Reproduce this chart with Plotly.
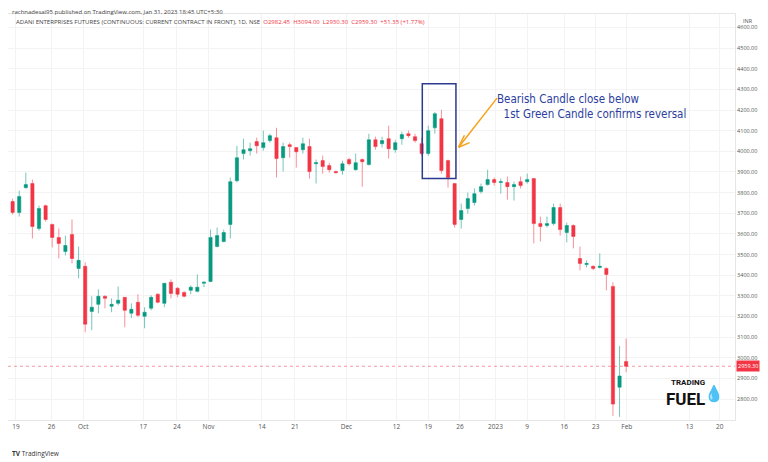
import plotly.graph_objects as go

# daily candles (index 0 = Sep 16 2022)
opens = [3757, 3704, 3824, 3844, 3626, 3737, 3646, 3583, 3515, 3597,
         3433, 3443, 3225, 3259, 3298, 3250, 3264, 3293, 3216, 3269,
         3201, 3240, 3308, 3264, 3366, 3337, 3317, 3327, 3322, 3361,
         3370, 3539, 3563, 3646, 3858, 3989, 4003, 4047, 4018, 4052,
         4066, 3969, 4032, 4018, 4008, 4023, 3940, 3955, 3931, 3902,
         3907, 3960, 3911, 3960, 3936, 4056, 4037, 4061, 4008, 4061,
         4085, 4071, 4037, 3989, 4114, 4158, 3955, 3844, 3670, 3723,
         3752, 3805, 3839, 3863, 3849, 3849, 3829, 3853, 3853, 3868,
         3650, 3641, 3650, 3728, 3607, 3641, 3481, 3452, 3443, 3438,
         3433, 3346, 2858, 2982.45]
highs = [3771, 3810, 3897, 3863, 3737, 3742, 3650, 3626, 3592, 3670,
         3539, 3462, 3298, 3332, 3303, 3288, 3346, 3293, 3264, 3308,
         3245, 3303, 3312, 3361, 3380, 3342, 3322, 3351, 3404, 3370,
         3621, 3631, 3621, 3873, 4027, 4061, 4042, 4066, 4100, 4085,
         4114, 4042, 4042, 4018, 4066, 4061, 3960, 3979, 3945, 3907,
         3955, 3969, 3989, 3965, 4085, 4071, 4071, 4124, 4056, 4095,
         4100, 4085, 4066, 4124, 4191, 4201, 3960, 3844, 3747, 3800,
         3820, 3844, 3911, 3873, 3868, 3878, 3853, 3878, 3892, 3868,
         3684, 3684, 3747, 3747, 3655, 3646, 3539, 3472, 3448, 3506,
         3438, 3366, 3057, 3094.00]
lows = [3694, 3684, 3820, 3578, 3616, 3660, 3535, 3481, 3496, 3457,
        3385, 3124, 3134, 3216, 3240, 3221, 3254, 3148, 3192, 3197,
        3143, 3230, 3264, 3245, 3288, 3293, 3293, 3308, 3317, 3342,
        3366, 3535, 3559, 3578, 3849, 3960, 3979, 3989, 4003, 4042,
        3873, 3902, 3969, 3921, 3989, 3868, 3844, 3892, 3897, 3892,
        3887, 3931, 3907, 3829, 3931, 4008, 4018, 3965, 3993, 4032,
        4066, 4042, 3979, 3979, 4085, 3892, 3824, 3631, 3626, 3699,
        3737, 3795, 3834, 3834, 3795, 3766, 3762, 3820, 3844, 3554,
        3563, 3631, 3641, 3592, 3559, 3530, 3424, 3438, 3424, 3433,
        3327, 2718, 2714, 2930.30]
closes = [3704, 3781, 3839, 3636, 3723, 3670, 3583, 3554, 3544, 3481,
          3472, 3163, 3245, 3298, 3288, 3259, 3279, 3230, 3235, 3206,
          3221, 3293, 3269, 3361, 3312, 3308, 3298, 3342, 3342, 3366,
          3583, 3592, 3607, 3853, 3969, 4008, 4013, 4027, 4042, 4076,
          3965, 4023, 4023, 3998, 4037, 3902, 3945, 3926, 3911, 3897,
          3940, 3940, 3945, 3950, 4056, 4023, 4052, 4013, 4042, 4081,
          4076, 4052, 3989, 4100, 4182, 3907, 3873, 3646, 3713, 3771,
          3795, 3829, 3863, 3849, 3853, 3829, 3839, 3834, 3863, 3650,
          3636, 3650, 3728, 3621, 3641, 3588, 3457, 3457, 3433, 3443,
          3404, 2776, 2912, 2959.30]
days = list(range(len(closes)))

tick_pos = [0.5, 5.9, 10.7, 19.8, 24.9, 29.7, 37.8, 42.8, 50.6, 58.2,
            63, 67.8, 73.2, 78, 83.6, 88.4, 93.1, 102.6, 107.2]
tick_text = ["19", "26", "Oct", "17", "24", "Nov", "14", "21", "Dec", "12",
             "19", "26", "2023", "9", "16", "23", "Feb", "13", "20"]
price_ticks = list(range(2800, 4700, 100))

green = "#089981"
red = "#f23645"
last = closes[-1]

fig = go.Figure(go.Candlestick(
    x=days, open=opens, high=highs, low=lows, close=closes,
    increasing=dict(line=dict(color="rgba(8,153,129,0.55)", width=1), fillcolor=green),
    decreasing=dict(line=dict(color="rgba(242,54,69,0.55)", width=1), fillcolor=red),
    showlegend=False, hoverinfo="skip"))

# last price line
fig.add_hline(y=last, line=dict(color=red, width=1, dash="dot"), opacity=0.5)

# highlight box + arrow
fig.add_shape(type="rect", x0=62.1, x1=67.2, y0=3868, y1=4327,
              line=dict(color="#2b3a8f", width=1.5))
for ax, ay in [(73.6, 4265), (69.5, 4045), (68.6, 4085)]:
    fig.add_annotation(x=67.6, y=4020, ax=ax, ay=ay, axref="x", ayref="y",
                       showarrow=True, arrowhead=0, arrowwidth=1.5,
                       arrowcolor="#f7a21b", text="")
fig.add_annotation(x=87.8, y=4215, xref="x", yref="y", showarrow=False,
                   text="Bearish Candle close below<br>  1st Green Candle confirms reversal",
                   font=dict(family="DejaVu Sans Condensed", size=11.5, color="#2b3ea0"),
                   align="left")

# header texts
fig.add_annotation(x=0.003, y=1.0, xref="paper", yref="paper", yanchor="bottom", yshift=-4,
                   xanchor="left", showarrow=False,
                   text="rachnadesai95 published on TradingView.com, Jan 31, 2023 18:45 UTC+5:30",
                   font=dict(size=6, color="#444"))
fig.add_annotation(x=0.008, y=1.0, xref="paper", yref="paper", yanchor="top", yshift=-2,
                   xanchor="left", showarrow=False,
                   text="ADANI ENTERPRISES FUTURES (CONTINUOUS: CURRENT CONTRACT IN FRONT), 1D, NSE  "
                        f"<span style='color:{red}'>O2982.45  H3094.00  L2930.30  C2959.30  +51.35 (+1.77%)</span>",
                   font=dict(size=6, color="#444"))
fig.add_annotation(x=1.0, y=1.0, xref="paper", yref="paper", xanchor="left", yanchor="top",
                   xshift=6, yshift=-1, showarrow=False, text="INR", font=dict(size=5.5, color="#555"))
fig.add_annotation(x=1.0, y=last, xref="paper", yref="y", xanchor="left", showarrow=False,
                   xshift=1, text=f"{last:.2f}", bgcolor=red, font=dict(size=5.5, color="white"))
fig.add_annotation(x=0.003, y=0, xref="paper", yref="paper", xanchor="left", yanchor="top",
                   yshift=-27, showarrow=False, text="<b>TV</b> TradingView",
                   font=dict(size=6.5, color="#333"))

# logo
fig.add_annotation(x=102.5, y=2880, showarrow=False, text="<b>TRADING</b>",
                   font=dict(family="Roboto", size=8, color="#111"))
fig.add_annotation(x=102, y=2800, showarrow=False, text="<b>FUEL</b>",
                   font=dict(family="Roboto", size=17, color="#111"))
fig.add_annotation(x=106.3, y=2830, showarrow=False, text="<b>💧</b>",
                   font=dict(size=16, color="#1b7fd6"))

fig.update_xaxes(range=[-0.7, 109.5], tickvals=tick_pos, ticktext=tick_text,
                 showgrid=True, gridcolor="#f3f3f3", zeroline=False,
                 tickfont=dict(size=6.5, color="#555"), rangeslider_visible=False,
                 showline=True, linecolor="#e6e6e6", mirror=True, ticks="")
fig.update_yaxes(range=[2699, 4665], side="right", tickvals=price_ticks,
                 tickformat=".2f", showgrid=True, gridcolor="#f3f3f3", zeroline=False,
                 tickfont=dict(size=5.5, color="#555"),
                 showline=True, linecolor="#e6e6e6", mirror=True)

fig.update_layout(width=760, height=454, margin=dict(l=0, r=33, t=6, b=42, autoexpand=False),
                  plot_bgcolor="white", paper_bgcolor="white",
                  font=dict(family="Open Sans"))

fig.write_html("out.html")
